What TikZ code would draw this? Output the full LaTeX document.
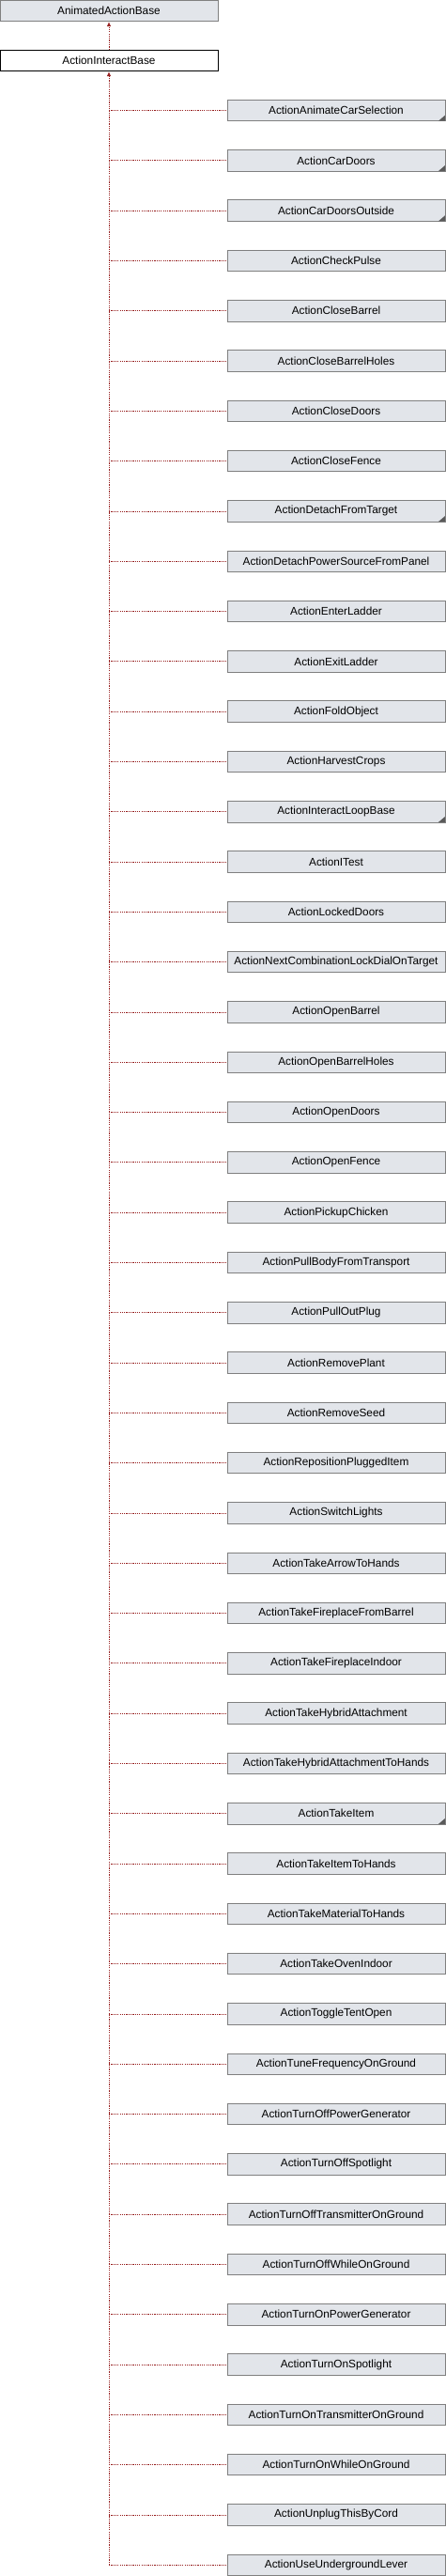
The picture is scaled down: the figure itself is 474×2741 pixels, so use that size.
\documentclass[tikz,border=0pt]{standalone}
\usepackage{fontspec}
\setmainfont{Liberation Sans}
\usetikzlibrary{positioning, arrows.meta}
\definecolor{DoxFill}{RGB}{226, 229, 234}
\definecolor{DoxBorder}{RGB}{128, 128, 128}
\definecolor{DoxRed}{RGB}{150, 30, 30}
\definecolor{DoxMark}{RGB}{90, 90, 90}
\tikzset{
	cls/.style={shape=rectangle, draw=DoxBorder, fill=DoxFill, line width=0.9pt, minimum width=232, minimum height=22.5, inner sep=0pt, font=\fontsize{11.8}{14}\selectfont},
	inherit/.style={DoxRed, line width=0.8pt, dash pattern=on 1.2pt off 1.1pt},
	headtip/.style={-{Latex[length=5pt, width=4.5pt]}},
	more/.style={DoxMark}
}

\begin{document}
\begin{tikzpicture}[x=1pt, y=-1pt]
		\useasboundingbox (0,0) rectangle (474,2741);
		
		% Bases
		\node[cls] (animbase) at (116,11.5) {AnimatedActionBase};
		\node[cls, draw=black, fill=white] (ibase) at (116,64.5) {ActionInteractBase};
		\path[inherit, headtip] (ibase) edge (animbase);
		
		% Derived actions
		\node[cls] (a1) at (358,117.5) {ActionAnimateCarSelection};
		\node[cls] (a2) at (358,170.8) {ActionCarDoors};
		\node[cls] (a3) at (358,224.1) {ActionCarDoorsOutside};
		\node[cls] (a4) at (358,277.4) {ActionCheckPulse};
		\node[cls] (a5) at (358,330.7) {ActionCloseBarrel};
		\node[cls] (a6) at (358,384.0) {ActionCloseBarrelHoles};
		\node[cls] (a7) at (358,437.3) {ActionCloseDoors};
		\node[cls] (a8) at (358,490.6) {ActionCloseFence};
		\node[cls] (a9) at (358,543.9) {ActionDetachFromTarget};
		\node[cls] (a10) at (358,597.2) {ActionDetachPowerSourceFromPanel};
		\node[cls] (a11) at (358,650.5) {ActionEnterLadder};
		\node[cls] (a12) at (358,703.8) {ActionExitLadder};
		\node[cls] (a13) at (358,757.1) {ActionFoldObject};
		\node[cls] (a14) at (358,810.4) {ActionHarvestCrops};
		\node[cls] (a15) at (358,863.7) {ActionInteractLoopBase};
		\node[cls] (a16) at (358,917.0) {ActionITest};
		\node[cls] (a17) at (358,970.3) {ActionLockedDoors};
		\node[cls] (a18) at (358,1023.6) {ActionNextCombinationLockDialOnTarget};
		\node[cls] (a19) at (358,1076.9) {ActionOpenBarrel};
		\node[cls] (a20) at (358,1130.2) {ActionOpenBarrelHoles};
		\node[cls] (a21) at (358,1183.5) {ActionOpenDoors};
		\node[cls] (a22) at (358,1236.8) {ActionOpenFence};
		\node[cls] (a23) at (358,1290.1) {ActionPickupChicken};
		\node[cls] (a24) at (358,1343.4) {ActionPullBodyFromTransport};
		\node[cls] (a25) at (358,1396.7) {ActionPullOutPlug};
		\node[cls] (a26) at (358,1450.0) {ActionRemovePlant};
		\node[cls] (a27) at (358,1503.3) {ActionRemoveSeed};
		\node[cls] (a28) at (358,1556.6) {ActionRepositionPluggedItem};
		\node[cls] (a29) at (358,1609.9) {ActionSwitchLights};
		\node[cls] (a30) at (358,1663.2) {ActionTakeArrowToHands};
		\node[cls] (a31) at (358,1716.5) {ActionTakeFireplaceFromBarrel};
		\node[cls] (a32) at (358,1769.8) {ActionTakeFireplaceIndoor};
		\node[cls] (a33) at (358,1823.1) {ActionTakeHybridAttachment};
		\node[cls] (a34) at (358,1876.4) {ActionTakeHybridAttachmentToHands};
		\node[cls] (a35) at (358,1929.7) {ActionTakeItem};
		\node[cls] (a36) at (358,1983.0) {ActionTakeItemToHands};
		\node[cls] (a37) at (358,2036.3) {ActionTakeMaterialToHands};
		\node[cls] (a38) at (358,2089.6) {ActionTakeOvenIndoor};
		\node[cls] (a39) at (358,2142.9) {ActionToggleTentOpen};
		\node[cls] (a40) at (358,2196.2) {ActionTuneFrequencyOnGround};
		\node[cls] (a41) at (358,2249.5) {ActionTurnOffPowerGenerator};
		\node[cls] (a42) at (358,2302.8) {ActionTurnOffSpotlight};
		\node[cls] (a43) at (358,2356.1) {ActionTurnOffTransmitterOnGround};
		\node[cls] (a44) at (358,2409.4) {ActionTurnOffWhileOnGround};
		\node[cls] (a45) at (358,2462.7) {ActionTurnOnPowerGenerator};
		\node[cls] (a46) at (358,2516.0) {ActionTurnOnSpotlight};
		\node[cls] (a47) at (358,2569.3) {ActionTurnOnTransmitterOnGround};
		\node[cls] (a48) at (358,2622.6) {ActionTurnOnWhileOnGround};
		\node[cls] (a49) at (358,2675.9) {ActionUnplugThisByCord};
		\node[cls] (a50) at (358,2729.2) {ActionUseUndergroundLever};
		
		% markers for classes with more children
		\fill[more] ([xshift=-0.5pt, yshift=0.5pt]a1.south east) -- ++(-7,0) -- ++(7,-6) -- cycle;
		\fill[more] ([xshift=-0.5pt, yshift=0.5pt]a2.south east) -- ++(-7,0) -- ++(7,-6) -- cycle;
		\fill[more] ([xshift=-0.5pt, yshift=0.5pt]a3.south east) -- ++(-7,0) -- ++(7,-6) -- cycle;
		\fill[more] ([xshift=-0.5pt, yshift=0.5pt]a9.south east) -- ++(-7,0) -- ++(7,-6) -- cycle;
		\fill[more] ([xshift=-0.5pt, yshift=0.5pt]a15.south east) -- ++(-7,0) -- ++(7,-6) -- cycle;
		\fill[more] ([xshift=-0.5pt, yshift=0.5pt]a35.south east) -- ++(-7,0) -- ++(7,-6) -- cycle;
		
		% connectors
		\draw[inherit, headtip] (ibase.south |- a50.west) -- (ibase.south);
		\path[inherit] (ibase.south |- a1.west) edge (a1.west);
		\path[inherit] (ibase.south |- a2.west) edge (a2.west);
		\path[inherit] (ibase.south |- a3.west) edge (a3.west);
		\path[inherit] (ibase.south |- a4.west) edge (a4.west);
		\path[inherit] (ibase.south |- a5.west) edge (a5.west);
		\path[inherit] (ibase.south |- a6.west) edge (a6.west);
		\path[inherit] (ibase.south |- a7.west) edge (a7.west);
		\path[inherit] (ibase.south |- a8.west) edge (a8.west);
		\path[inherit] (ibase.south |- a9.west) edge (a9.west);
		\path[inherit] (ibase.south |- a10.west) edge (a10.west);
		\path[inherit] (ibase.south |- a11.west) edge (a11.west);
		\path[inherit] (ibase.south |- a12.west) edge (a12.west);
		\path[inherit] (ibase.south |- a13.west) edge (a13.west);
		\path[inherit] (ibase.south |- a14.west) edge (a14.west);
		\path[inherit] (ibase.south |- a15.west) edge (a15.west);
		\path[inherit] (ibase.south |- a16.west) edge (a16.west);
		\path[inherit] (ibase.south |- a17.west) edge (a17.west);
		\path[inherit] (ibase.south |- a18.west) edge (a18.west);
		\path[inherit] (ibase.south |- a19.west) edge (a19.west);
		\path[inherit] (ibase.south |- a20.west) edge (a20.west);
		\path[inherit] (ibase.south |- a21.west) edge (a21.west);
		\path[inherit] (ibase.south |- a22.west) edge (a22.west);
		\path[inherit] (ibase.south |- a23.west) edge (a23.west);
		\path[inherit] (ibase.south |- a24.west) edge (a24.west);
		\path[inherit] (ibase.south |- a25.west) edge (a25.west);
		\path[inherit] (ibase.south |- a26.west) edge (a26.west);
		\path[inherit] (ibase.south |- a27.west) edge (a27.west);
		\path[inherit] (ibase.south |- a28.west) edge (a28.west);
		\path[inherit] (ibase.south |- a29.west) edge (a29.west);
		\path[inherit] (ibase.south |- a30.west) edge (a30.west);
		\path[inherit] (ibase.south |- a31.west) edge (a31.west);
		\path[inherit] (ibase.south |- a32.west) edge (a32.west);
		\path[inherit] (ibase.south |- a33.west) edge (a33.west);
		\path[inherit] (ibase.south |- a34.west) edge (a34.west);
		\path[inherit] (ibase.south |- a35.west) edge (a35.west);
		\path[inherit] (ibase.south |- a36.west) edge (a36.west);
		\path[inherit] (ibase.south |- a37.west) edge (a37.west);
		\path[inherit] (ibase.south |- a38.west) edge (a38.west);
		\path[inherit] (ibase.south |- a39.west) edge (a39.west);
		\path[inherit] (ibase.south |- a40.west) edge (a40.west);
		\path[inherit] (ibase.south |- a41.west) edge (a41.west);
		\path[inherit] (ibase.south |- a42.west) edge (a42.west);
		\path[inherit] (ibase.south |- a43.west) edge (a43.west);
		\path[inherit] (ibase.south |- a44.west) edge (a44.west);
		\path[inherit] (ibase.south |- a45.west) edge (a45.west);
		\path[inherit] (ibase.south |- a46.west) edge (a46.west);
		\path[inherit] (ibase.south |- a47.west) edge (a47.west);
		\path[inherit] (ibase.south |- a48.west) edge (a48.west);
		\path[inherit] (ibase.south |- a49.west) edge (a49.west);
		\path[inherit] (ibase.south |- a50.west) edge (a50.west);
	\end{tikzpicture}
\end{document}
